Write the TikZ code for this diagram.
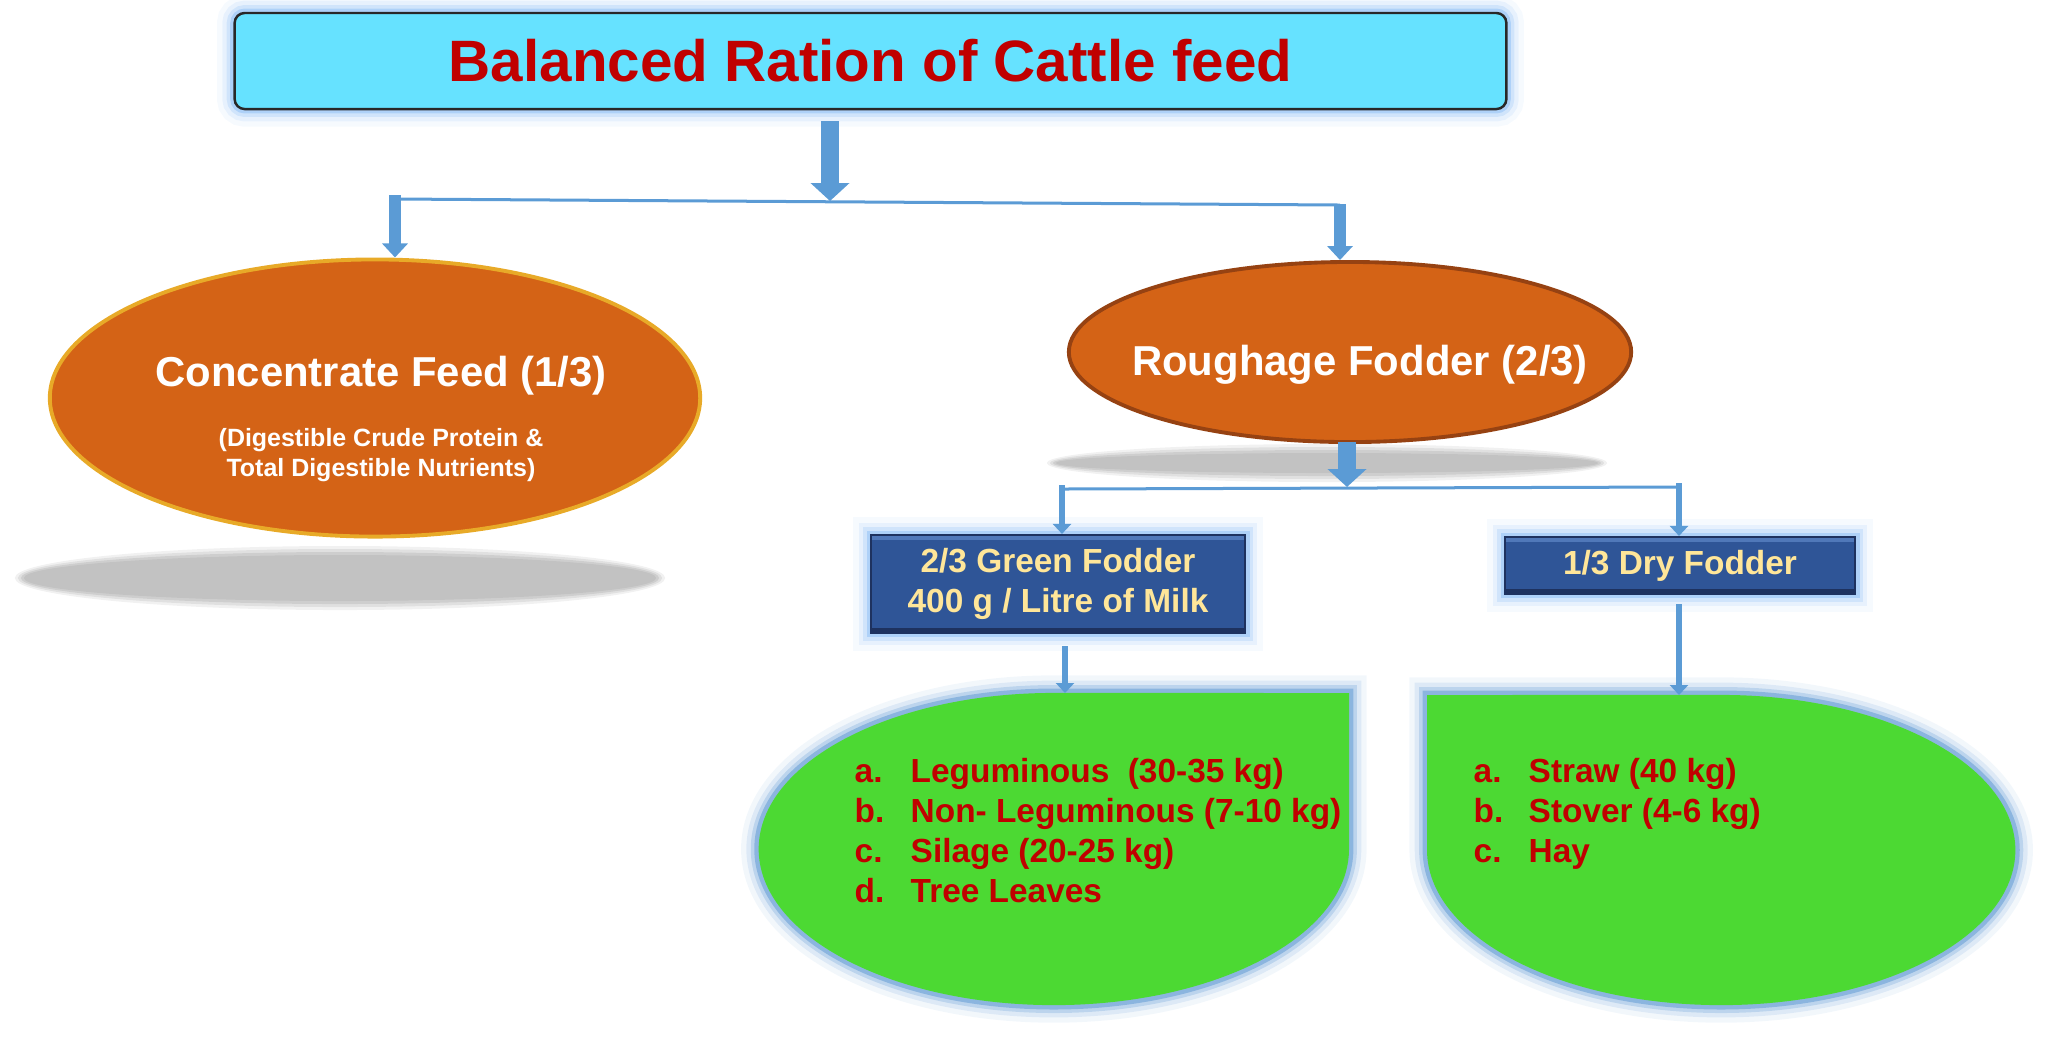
\documentclass[tikz,border=0pt]{standalone}
\usepackage{fontspec}
\setmainfont{Liberation Sans}
\usetikzlibrary{arrows.meta,positioning,shapes.geometric}

\definecolor{titlecyan}{RGB}{102,226,255}
\definecolor{titlerim}{RGB}{40,40,40}
\definecolor{titlered}{RGB}{192,0,0}
\definecolor{glowblue}{RGB}{140,190,245}
\definecolor{feedorange}{RGB}{212,99,22}
\definecolor{rimgold}{RGB}{232,170,40}
\definecolor{rimbrown}{RGB}{150,66,18}
\definecolor{shadowgray}{RGB}{185,185,185}
\definecolor{arrowblue}{RGB}{91,155,213}
\definecolor{boxblue}{RGB}{47,85,151}
\definecolor{boxlight}{RGB}{80,120,185}
\definecolor{boxrim}{RGB}{30,50,95}
\definecolor{boxtext}{RGB}{255,230,153}
\definecolor{leafgreen}{RGB}{76,217,51}
\definecolor{leafglow}{RGB}{91,150,210}

\tikzset{
  glow/.style={preaction={draw=#1, line width=10pt, opacity=0.08},
    preaction={draw=#1, line width=7pt, opacity=0.14},
    preaction={draw=#1, line width=4.5pt, opacity=0.25},
    preaction={draw=#1, line width=2.5pt, opacity=0.5}},
  conn/.style={draw=arrowblue, line width=0.03cm},
  bigarrow/.style={draw=arrowblue, line width=0.175cm, -{Triangle[width=0.38cm,length=0.18cm]}},
  midarrow/.style={draw=arrowblue, line width=0.12cm, -{Triangle[width=0.25cm,length=0.14cm]}},
  smallarrow/.style={draw=arrowblue, line width=0.06cm, -{Triangle[width=0.18cm,length=0.1cm]}},
  feedtext/.style={text=white, font=\fontsize{11.9}{14}\selectfont\bfseries, inner sep=0pt},
  listtext/.style={text=titlered, font=\fontsize{9.5}{11.4}\selectfont\bfseries, anchor=base west, inner sep=0pt}
}

\begin{document}
\begin{tikzpicture}[x=0.01cm,y=-0.01cm,
  titlebox/.style={rectangle, rounded corners=0.1cm, fill=titlecyan, draw=titlerim, line width=0.7pt,
    minimum width=12.71cm, minimum height=0.96cm, text=titlered, font=\fontsize{16.6}{20}\selectfont\bfseries,
    glow=glowblue},
  feedell/.style={ellipse, fill=feedorange, line width=1.1pt, inner sep=0pt},
  fodderbox/.style={rectangle, fill=boxblue, draw=boxrim, line width=0.6pt, text=boxtext, align=center, inner sep=0pt,
    font=\fontsize{9.5}{11.4}\selectfont\bfseries, glow=glowblue,
    path picture={\draw[boxlight, line width=3pt] (path picture bounding box.north west) -- (path picture bounding box.north east);
      \draw[boxrim, line width=3pt] (path picture bounding box.south west) -- (path picture bounding box.south east);}},
  leaf/.style={fill=leafgreen, glow=leafglow}]
\useasboundingbox (0,0) rectangle (2049,1044);

% shadows under the two ovals
\foreach \b/\op in {0/0.2,0.03/0.3,0.06/0.45,0.09/0.6}{
  \fill[shadowgray, opacity=\op] (340,578) ellipse [x radius={3.25cm-\b cm}, y radius={0.32cm-\b cm}];
  \fill[shadowgray, opacity=\op] (1327,463) ellipse [x radius={2.8cm-\b cm}, y radius={0.19cm-\b cm}];
}

\node[titlebox] (title) at (870.5,61) {Balanced Ration of Cattle feed};

\node[feedell, draw=rimgold, minimum width=6.5cm, minimum height=2.77cm] (conc) at (375,398) {};
\node[feedell, draw=rimbrown, minimum width=5.62cm, minimum height=1.8cm] (rough) at (1350,352) {};

\node[fodderbox, minimum width=3.74cm, minimum height=0.98cm] (green) at (1058,584) {2/3 Green Fodder\\400 g / Litre of Milk};
\node[fodderbox, minimum width=3.5cm, minimum height=0.57cm] (dry) at (1680,565.5) {1/3 Dry Fodder};

% the two lists
\path[leaf] (1349,693) -- (1349,849) arc[start angle=0, end angle=-180, x radius=2.95cm, y radius=1.56cm]
  arc[start angle=180, end angle=90, x radius=2.95cm, y radius=1.56cm] -- cycle;
\path[leaf] (1427,695) -- (1427,850) arc[start angle=180, end angle=360, x radius=2.94cm, y radius=1.55cm]
  arc[start angle=0, end angle=90, x radius=2.94cm, y radius=1.55cm] -- cycle;
\coordinate (greentop) at (1065,693);
\coordinate (drytop) at (1679,695);

% connectors
\coordinate (split1) at (830,201);
\coordinate (jl1) at (395,199);
\coordinate (jr1) at (1340,205);
\draw[bigarrow, shorten <=0.11cm] (title.south -| split1) -- (split1);
\draw[conn] (jl1) -- (jr1);
\draw[midarrow] ([yshift=0.04cm]jl1) -- (jl1 |- conc.north);
\draw[midarrow] ([yshift=0.01cm]jr1) -- (jr1 |- rough.north);

\coordinate (split2) at (1347,487);
\coordinate (jl2) at (1062,489);
\coordinate (jr2) at (1679,487);
\draw[bigarrow, shorten <=-0.02cm] (rough.south -| split2) -- (split2);
\draw[conn] (jl2) -- (jr2);
\draw[smallarrow] ([yshift=0.04cm]jl2) -- (jl2 |- green.north);
\draw[smallarrow] ([yshift=0.04cm]jr2) -- (jr2 |- dry.north);

\draw[smallarrow, shorten <=0.12cm] (green.south -| greentop) -- (greentop);
\draw[smallarrow, shorten <=0.09cm] (dry.south -| drytop) -- (drytop);

% texts
\node[feedtext, anchor=base] (conctext) at (381,386) {Concentrate Feed (1/3)};
\node[feedtext, font=\fontsize{7.1}{8.5}\selectfont\bfseries, align=center] (concsub) at (381,455)
  {(Digestible Crude Protein \&\\Total Digestible Nutrients)};
\node[feedtext, anchor=base] (roughtext) at (1360,375) {Roughage Fodder (2/3)};

\foreach \lab/\txt [count=\i] in {a./{Leguminous\ \ (30-35 kg)}, b./{Non- Leguminous (7-10 kg)}, c./{Silage (20-25 kg)}, d./{Tree Leaves}}{
  \node[listtext] (greenlab\i) at (854,{782+40.3*(\i-1)}) {\lab};
  \node[listtext] (greenitem\i) at (910,{782+40.3*(\i-1)}) {\txt};
}
\foreach \lab/\txt [count=\i] in {a./{Straw (40 kg)}, b./{Stover (4-6 kg)}, c./{Hay}}{
  \node[listtext] (drylab\i) at (1473,{782+40.3*(\i-1)}) {\lab};
  \node[listtext] (dryitem\i) at (1528,{782+40.3*(\i-1)}) {\txt};
}
\end{tikzpicture}
\end{document}
